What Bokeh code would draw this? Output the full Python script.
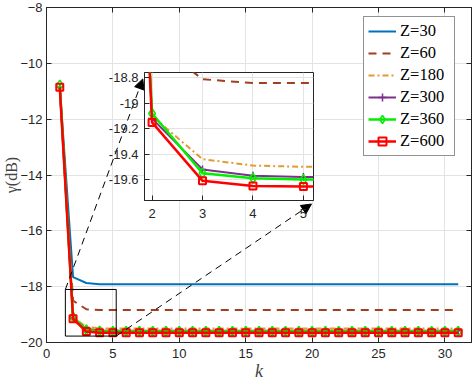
from bokeh.plotting import figure
from bokeh.models import (Range1d, LinearAxis, FixedTicker, Legend, LegendItem,
                          Arrow, NormalHead, CustomJSTickFormatter, BoxAnnotation)
from bokeh.layouts import column
from bokeh.embed import file_html
from bokeh.resources import INLINE

# ---------------- data ----------------
k = [1, 2, 3, 4, 5, 6, 7, 8, 9, 10, 11, 12, 13, 14, 15, 16,
     17, 18, 19, 20, 21, 22, 23, 24, 25, 26, 27, 28, 29, 30, 31]

z30 = [-10.86, -17.66, -17.87, -17.91, -17.91, -17.91, -17.91, -17.91, -17.91, -17.91,
       -17.91, -17.91, -17.91, -17.91, -17.91, -17.91, -17.91, -17.91, -17.91, -17.91,
       -17.91, -17.91, -17.91, -17.91, -17.91, -17.91, -17.91, -17.91, -17.91, -17.91, -17.91]
z60 = [-10.86, -18.50, -18.81, -18.84, -18.84, -18.84, -18.84, -18.84, -18.84, -18.84,
       -18.84, -18.84, -18.84, -18.84, -18.84, -18.84, -18.84, -18.84, -18.84, -18.84,
       -18.84, -18.84, -18.84, -18.84, -18.84, -18.84, -18.84, -18.84, -18.84, -18.84, -18.84]
z180 = [-10.86, -19.10, -19.44, -19.49, -19.50, -19.50, -19.50, -19.50, -19.50, -19.50,
        -19.50, -19.50, -19.50, -19.50, -19.50, -19.50, -19.50, -19.50, -19.50, -19.50,
        -19.50, -19.50, -19.50, -19.50, -19.50, -19.50, -19.50, -19.50, -19.50, -19.50, -19.50]
z300 = [-10.86, -19.12, -19.52, -19.57, -19.58, -19.58, -19.58, -19.58, -19.58, -19.58,
        -19.58, -19.58, -19.58, -19.58, -19.58, -19.58, -19.58, -19.58, -19.58, -19.58,
        -19.58, -19.58, -19.58, -19.58, -19.58, -19.58, -19.58, -19.58, -19.58, -19.58, -19.58]
z360 = [-10.78, -19.08, -19.55, -19.59, -19.60, -19.60, -19.60, -19.60, -19.60, -19.60,
        -19.60, -19.60, -19.60, -19.60, -19.60, -19.60, -19.60, -19.60, -19.60, -19.60,
        -19.60, -19.60, -19.60, -19.60, -19.60, -19.60, -19.60, -19.60, -19.60, -19.60, -19.60]
z600 = [-10.86, -19.15, -19.61, -19.65, -19.655, -19.655, -19.655, -19.655, -19.655, -19.655,
        -19.655, -19.655, -19.655, -19.655, -19.655, -19.655, -19.655, -19.655, -19.655, -19.655,
        -19.655, -19.655, -19.655, -19.655, -19.655, -19.655, -19.655, -19.655, -19.655, -19.655, -19.655]

labels = ["Z=30", "Z=60", "Z=180", "Z=300", "Z=360", "Z=600"]

x_ticks = [0, 5, 10, 15, 20, 25, 30]
y_ticks = [-20, -18, -16, -14, -12, -10, -8]
inset_x_ticks = [2, 3, 4, 5]
inset_y_ticks = [-19.6, -19.4, -19.2, -19.0, -18.8]

# zoom box (left, right, bottom, top) and arrow tips, in main data units
zoom_box = [1.42, 5.25, -19.77, -18.1]
arrow_tip_1 = [7.25, -10.56]
arrow_tip_2 = [19.95, -15.04]

# ---------------- style ----------------
AX = "#262626"
GRID = "#e3e3e3"
C30, C60, C180, C300, C360, C600 = "#0072BD", "#A0401F", "#E39A2F", "#7E2F8E", "#00EE00", "#FF0000"


def style_axes(fig, xt, yt, fmt=None):
    for ax in fig.xaxis + fig.yaxis:
        ax.axis_line_color = AX
        ax.major_tick_line_color = AX
        ax.major_tick_in = 5
        ax.major_tick_out = 0
        ax.minor_tick_line_color = None
        ax.major_label_text_font = "Liberation Sans"
        ax.major_label_text_font_size = "13px"
        ax.major_label_text_color = AX
    fig.xaxis.ticker = FixedTicker(ticks=xt)
    fig.yaxis.ticker = FixedTicker(ticks=yt)
    if fmt is not None:
        fig.yaxis.formatter = fmt
    fig.xgrid.ticker = FixedTicker(ticks=xt)
    fig.ygrid.ticker = FixedTicker(ticks=yt)
    fig.grid.grid_line_color = GRID
    fig.grid.grid_line_width = 1
    fig.outline_line_color = AX
    fig.outline_line_width = 1
    fig.outline_line_alpha = 1


def draw_series(fig):
    r = []
    r.append([fig.line(k, z30, line_color=C30, line_width=2)])
    r.append([fig.line(k, z60, line_color=C60, line_width=2, line_dash="8 6")])
    r.append([fig.line(k, z180, line_color=C180, line_width=2, line_dash="6 3 2 3")])
    l300 = fig.line(k, z300, line_color=C300, line_width=2)
    m300 = fig.scatter(k, z300, marker="cross", size=8, line_color=C300, line_width=1.5)
    r.append([l300, m300])
    l360 = fig.line(k, z360, line_color=C360, line_width=2.5)
    m360 = fig.scatter(k, z360, marker="diamond", size=10, line_color=C360, fill_color=None, line_width=1.5)
    r.append([l360, m360])
    l600 = fig.line(k, z600, line_color=C600, line_width=2.5)
    m600 = fig.scatter(k, z600, marker="square", size=7, line_color=C600, fill_color=None, line_width=2)
    r.append([l600, m600])
    return r


# ---------------- main figure ----------------
p = figure(width=474, height=383, output_backend="svg", toolbar_location=None,
           x_range=Range1d(0, 32), y_range=Range1d(-20, -8),
           min_border_left=45, min_border_right=3, min_border_top=7, min_border_bottom=41,
           background_fill_color="white", border_fill_color="white")
p.xaxis.axis_label = "k"
p.xaxis.axis_label_text_font = "Liberation Serif"
p.xaxis.axis_label_text_font_style = "italic"
p.xaxis.axis_label_text_font_size = "18px"
p.xaxis.axis_label_standoff = 0
p.xaxis.major_label_standoff = 6
p.yaxis.axis_label = "γ(dB)"
p.yaxis.axis_label_text_font = "Liberation Serif"
p.yaxis.axis_label_text_font_style = "normal"
p.yaxis.axis_label_text_font_size = "16px"
p.yaxis.axis_label_standoff = -3
p.yaxis.major_label_standoff = 4
style_axes(p, x_ticks, y_ticks)
blank = CustomJSTickFormatter(code="return '';")
for loc, t in (("above", x_ticks), ("right", y_ticks)):
    ax = LinearAxis(ticker=FixedTicker(ticks=t), formatter=blank,
                    major_label_standoff=0, major_label_text_alpha=0,
                    axis_line_color=AX, major_tick_line_color=AX,
                    major_tick_in=5, major_tick_out=0, minor_tick_line_color=None)
    p.add_layout(ax, loc)

main_r = draw_series(p)

p.add_layout(BoxAnnotation(left=zoom_box[0], right=zoom_box[1], bottom=zoom_box[2], top=zoom_box[3],
                           fill_alpha=0, line_color="black", line_alpha=1, line_width=1))
p.add_layout(Arrow(end=NormalHead(size=10, fill_color="black", line_color="black"),
                   x_start=zoom_box[0], y_start=zoom_box[3], x_end=arrow_tip_1[0], y_end=arrow_tip_1[1],
                   line_color="black", line_width=1, line_dash="7 5"))
p.add_layout(Arrow(end=NormalHead(size=10, fill_color="black", line_color="black"),
                   x_start=zoom_box[1], y_start=zoom_box[2], x_end=arrow_tip_2[0], y_end=arrow_tip_2[1],
                   line_color="black", line_width=1, line_dash="7 5"))

legend = Legend(items=[LegendItem(label=lab, renderers=rs) for lab, rs in zip(labels, main_r)],
                location=(317, 186), label_text_font="Liberation Serif", label_text_font_size="16.5px",
                label_text_color="black", border_line_color=AX, border_line_width=1,
                padding=4, spacing=2, glyph_width=28, glyph_height=20, label_height=20,
                label_width=50, label_standoff=4, margin=0,
                background_fill_color="white", background_fill_alpha=1)
p.add_layout(legend)

# ---------------- inset figure ----------------
q = figure(width=218, height=156, output_backend="svg", toolbar_location=None,
           x_range=Range1d(1.85, 5.2), y_range=Range1d(-19.765, -18.757),
           min_border_left=45, min_border_right=2, min_border_top=2, min_border_bottom=26,
           background_fill_color="white", border_fill_alpha=0,
           margin=(-313, 0, 0, 98))
q.xaxis.major_label_standoff = 8
q.yaxis.major_label_standoff = 6
style_axes(q, inset_x_ticks, inset_y_ticks,
           CustomJSTickFormatter(code="return String(Math.round(tick*10)/10);"))
draw_series(q)

layout = column(p, q)
open("out.html", "w").write(file_html(layout, INLINE))
